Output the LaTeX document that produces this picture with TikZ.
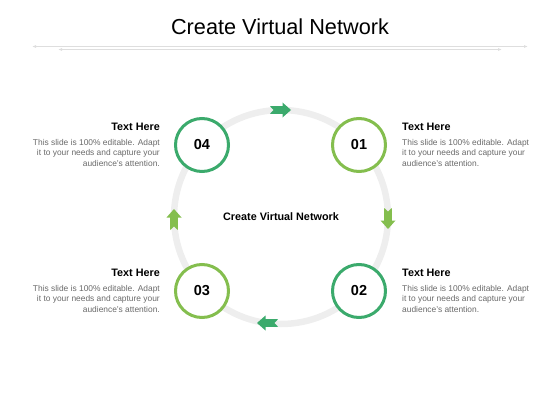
\documentclass[tikz,border=0pt]{standalone}
\usepackage{fontspec}
\setmainfont{Liberation Sans}
\usepackage{xcolor}
\usetikzlibrary{arrows.meta}

\definecolor{darkgreen}{RGB}{59,170,108}
\definecolor{lightgreen}{RGB}{132,190,78}
\definecolor{ringgray}{RGB}{238,238,238}
\definecolor{bodygray}{RGB}{105,105,105}
\definecolor{rulegray}{RGB}{222,222,222}

\tikzset{
	numcirc/.style={circle, line width=3pt, fill=white, minimum size=53pt, inner sep=0pt, font=\fontsize{14.5}{14.5}\selectfont\bfseries},
	head/.style={inner sep=0pt, font=\fontsize{10.8}{12}\selectfont\bfseries},
	body/.style={inner sep=0pt, text=bodygray, font=\fontsize{8.4}{10.5}\selectfont},
	titlerule/.style={rulegray, line width=0.9pt, {Latex[length=4pt,width=3pt]}-{Latex[length=4pt,width=3pt]}},
	blockarrow/.pic={
		\fill (-10,-3.8) -- (2.5,-3.8) -- (2.5,-7.5) -- (11,0) -- (2.5,7.5) -- (2.5,3.8) -- (-10,3.8) -- (-6.5,0) -- cycle;
	}
}

\begin{document}
\begin{tikzpicture}[x=1pt, y=-1pt]
	\useasboundingbox (0,0) rectangle (560,420);
	
	\node[font=\fontsize{21.7}{21.7}\selectfont] (title) at (280,27) {Create Virtual Network};
	\draw [titlerule] (32,46.5) -- (528,46.5);
	\draw [titlerule] (58,49.5) -- (502,49.5);
	
	\coordinate (centre) at (281,217);
	\draw [ringgray, line width=6.5pt] (centre) circle (107);
	
	\pic [darkgreen] at (280,110) {blockarrow};
	\pic [lightgreen, rotate=-90] at (388,218) {blockarrow};
	\pic [darkgreen, rotate=180] at (268,323) {blockarrow};
	\pic [lightgreen, rotate=90] at (174,220) {blockarrow};
	
	\node[numcirc, draw=darkgreen] (c04) at (202,145) {04};
	\node[numcirc, draw=lightgreen] (c01) at (359,145) {01};
	\node[numcirc, draw=lightgreen] (c03) at (202,291) {03};
	\node[numcirc, draw=darkgreen] (c02) at (359,291) {02};
	
	\node[font=\fontsize{10.8}{10.8}\selectfont\bfseries] (middle) at (centre) {Create Virtual Network};
	
	\node[head, anchor=west] (h01) at (402,127) {Text Here};
	\node[body, anchor=north west, align=left] (b01) at (402,139) {This slide is 100\% editable.  Adapt\\it to your needs and capture your\\audience's attention.};
	
	\node[head, anchor=west] (h02) at (402,273) {Text Here};
	\node[body, anchor=north west, align=left] (b02) at (402,285) {This slide is 100\% editable.  Adapt\\it to your needs and capture your\\audience's attention.};
	
	\node[head, anchor=east] (h04) at (160,127) {Text Here};
	\node[body, anchor=north east, align=right] (b04) at (160,139) {This slide is 100\% editable.  Adapt\\it to your needs and capture your\\audience's attention.};
	
	\node[head, anchor=east] (h03) at (160,273) {Text Here};
	\node[body, anchor=north east, align=right] (b03) at (160,285) {This slide is 100\% editable.  Adapt\\it to your needs and capture your\\audience's attention.};
\end{tikzpicture}
\end{document}
